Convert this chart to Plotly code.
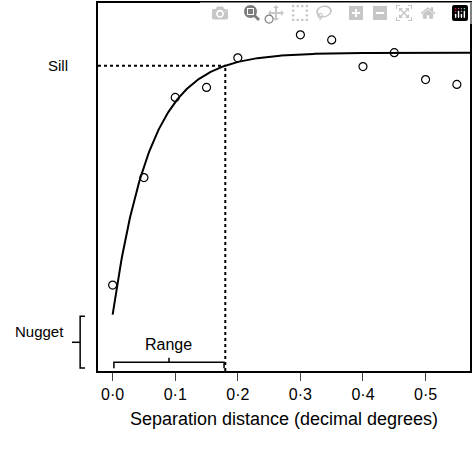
import numpy as np
import plotly.graph_objects as go

dist = [0.0, 0.05, 0.1, 0.15, 0.2, 0.25, 0.3, 0.35, 0.4, 0.45, 0.5, 0.55]
semiv = [0.275, 0.63, 0.895, 0.928, 1.026, 1.154, 1.102, 1.085, 0.997, 1.043, 0.954, 0.938]
tickvals = [0.0, 0.1, 0.2, 0.3, 0.4, 0.5]
ticktext = ["0·0", "0·1", "0·2", "0·3", "0·4", "0·5"]
nugget, psill, rng = 0.177, 0.866, 0.18
sill = 1.0

xc = np.linspace(0, 0.571, 300)
yc = nugget + psill * (1 - np.exp(-3 * xc / rng))

fig = go.Figure()
fig.add_trace(go.Scatter(x=xc, y=yc, mode="lines", line=dict(color="black", width=2), hoverinfo="skip"))
fig.add_trace(go.Scatter(x=dist, y=semiv, mode="markers",
                         marker=dict(symbol="circle-open", size=8, color="black", line=dict(width=1.2))))
dash = dict(color="black", width=2, dash="dot")
fig.add_shape(type="line", x0=-0.0234, x1=rng, y0=sill, y1=sill, line=dash)
fig.add_shape(type="line", x0=rng, x1=rng, y0=-0.009, y1=sill, line=dash)
# range bracket
fig.add_shape(type="path", path=f"M 0.002 0 L 0.002 0.02 L {rng-0.002} 0.02 L {rng-0.002} 0", line=dict(color="black", width=1.5))
fig.add_shape(type="line", x0=0.09, x1=0.09, y0=0.02, y1=0.035, line=dict(color="black", width=1.5))
fig.add_annotation(x=0.09, y=0.045, text="Range", showarrow=False, yanchor="bottom", font=dict(size=16))
# nugget bracket (outside)
fig.add_shape(type="path", xref="paper", yref="paper",
              path="M -0.035 0.149 L -0.048 0.149 L -0.048 0.008 L -0.035 0.008", line=dict(color="black", width=1.5))
fig.add_shape(type="line", xref="paper", yref="paper", x0=-0.048, x1=-0.07, y0=0.078, y1=0.078, line=dict(color="black", width=1.5))
fig.add_annotation(xref="paper", yref="paper", x=-0.085, y=0.078, text="Nugget", showarrow=False, xanchor="right", font=dict(size=15))
fig.add_annotation(xref="paper", yref="y", x=-0.075, y=sill, text="Sill", showarrow=False, xanchor="right", font=dict(size=15))

fig.update_layout(
    width=474, height=452, margin=dict(l=98, r=4, t=1, b=81),
    plot_bgcolor="white", paper_bgcolor="white", showlegend=False,
    font=dict(family="Liberation Sans, Arial", color="black"),
    xaxis=dict(range=[-0.0234, 0.571], tickvals=tickvals, ticktext=ticktext, ticks="outside", ticklen=8,
               tickwidth=1.2, showgrid=False, zeroline=False, showline=True, mirror=True, linecolor="black", linewidth=1.5,
               tickfont=dict(size=16), title=dict(text="Separation distance (decimal degrees)", font=dict(size=18), standoff=10)),
    yaxis=dict(range=[-0.009, 1.207], showticklabels=False, ticks="", showgrid=False, zeroline=False,
               showline=True, mirror=True, linecolor="black", linewidth=1.5),
)
fig.write_html("out.html")
with open("out.html", encoding="utf-8") as f:
    html = f.read()
html = html.replace("<head>", "<head><style>html,body{margin:0;padding:0;overflow:hidden}</style>", 1)
with open("out.html", "w", encoding="utf-8") as f:
    f.write(html)
